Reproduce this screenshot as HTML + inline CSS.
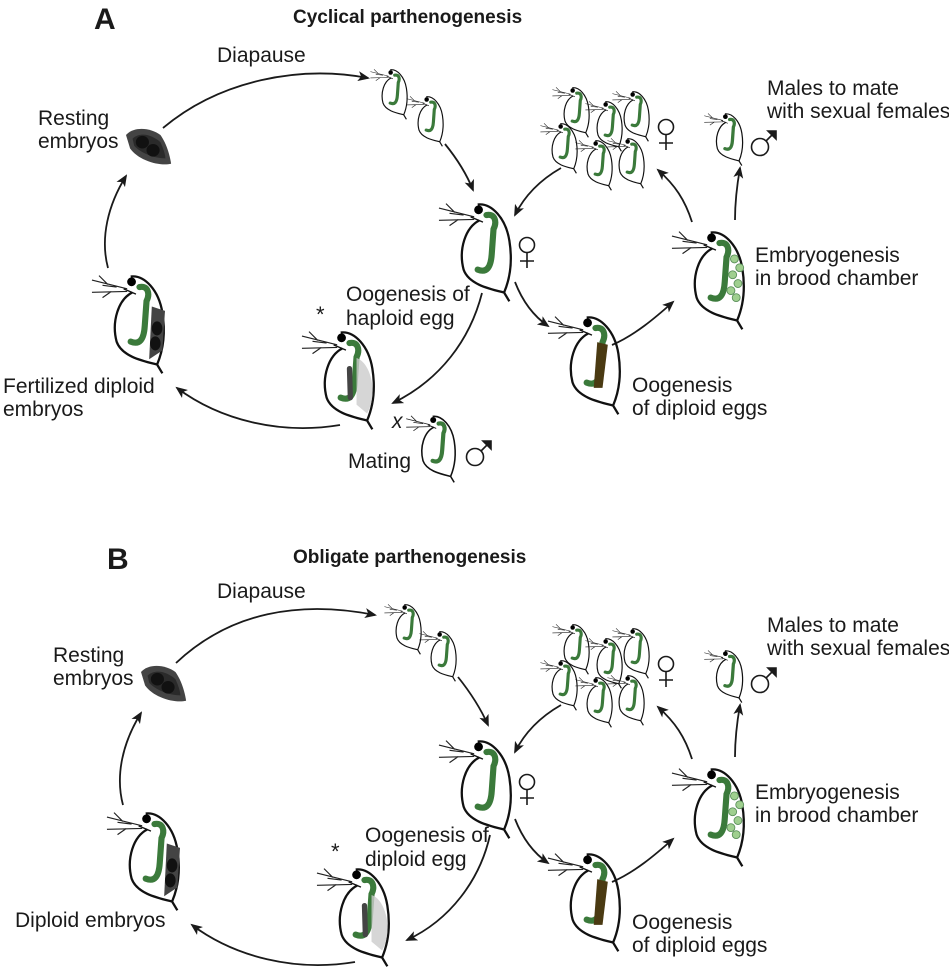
<!DOCTYPE html>
<html><head><meta charset="utf-8"><style>
html,body{margin:0;padding:0;background:#fff}
svg{display:block}
text{font-family:"Liberation Sans",sans-serif;font-size:21px;fill:#1a1a1a}
.t{font-weight:bold;font-size:19px}
.L{font-weight:bold;font-size:30px}
</style></head><body>
<svg width="949" height="976" viewBox="0 0 949 976" xmlns="http://www.w3.org/2000/svg">
<defs>
<marker id="ah" markerWidth="12" markerHeight="10" refX="10" refY="5" orient="auto" markerUnits="userSpaceOnUse">
<path d="M0,0 L12,5 L0,10 L3,5 Z" fill="#1a1a1a"/></marker>
<g id="fem" fill="none" stroke="#1a1a1a" stroke-width="1.6"><circle cx="0" cy="0" r="7.5"/><path d="M0,7.5 V23 M-7,16 H7"/></g>
<g id="mal" fill="none" stroke="#1a1a1a" stroke-width="1.6"><circle cx="0" cy="0" r="8.5"/><path d="M6,-6 L14,-14"/><path d="M8,-16 L16,-16 L16,-8 Z" fill="#1a1a1a"/></g>
<g id="d">
<path d="M32,18 L-8,8 M10,13 L0,3 M32,21 L-8,22 M14,21 L4,28 M20,16 L4,14" stroke="#222" stroke-width="1.3" fill="none"/>
<path d="M36,4 C52,2 68,20 72,45 C76,70 72,90 66,104" stroke="#111" stroke-width="2.6" fill="none"/>
<path d="M38,22 C22,30 14,55 20,78 C26,95 50,100 66,104 L72,114" stroke="#111" stroke-width="2.6" fill="none"/>
<path d="M28,18 L42,24" stroke="#111" stroke-width="1.5"/>
<circle cx="37" cy="10" r="5" fill="#000"/>
<path d="M46,16 C56,14 58,24 54,32 L52,60 C51,76 46,82 36,78" stroke="#3b7a3b" stroke-width="7" fill="none" stroke-linecap="round"/>
</g>
<g id="re"><path d="M0,10 C10,0 30,2 42,10 C50,20 54,35 55,42 C40,45 15,38 5,25 Z" fill="#444"/><path d="M8,14 C18,6 32,10 42,18 C46,26 48,32 48,36 C34,36 18,30 10,22 Z" fill="#2a2a2a"/><ellipse cx="20" cy="18" rx="8" ry="7" fill="#111"/><ellipse cx="33" cy="27" rx="8" ry="7" fill="#111"/></g>
<g id="R">
<g fill="none" stroke="#1a1a1a" stroke-width="1.8">
<path d="M561,168 C540,180 525,195 515,215" marker-end="url(#ah)"/>
<path d="M515,282 C522,300 532,315 548,326" marker-end="url(#ah)"/>
<path d="M612,345 C635,335 655,318 673,302" marker-end="url(#ah)"/>
<path d="M692,222 C685,200 675,185 658,170" marker-end="url(#ah)"/>
<path d="M735,220 C735,200 737,185 740,168" marker-end="url(#ah)"/>
</g>
<g transform="translate(446,201) scale(0.88)"><use href="#d"/></g>
<g transform="translate(679,229) scale(0.88)"><use href="#d"/>
<g fill="#9fcf8f" stroke="#5a8f5a"><circle cx="63" cy="34" r="4.5"/><circle cx="69" cy="44" r="4.5"/><circle cx="61" cy="52" r="4.5"/><circle cx="67" cy="62" r="4.5"/><circle cx="59" cy="70" r="4.5"/><circle cx="65" cy="78" r="4.5"/></g></g>
<g transform="translate(555,314) scale(0.88)"><use href="#d"/>
<path d="M48,32 L60,35 L54,84 L44,84 Z" fill="#4a3a12"/></g>
<use href="#d" transform="translate(556,86) scale(0.45)"/>
<use href="#d" transform="translate(589,100) scale(0.45)"/>
<use href="#d" transform="translate(616,90) scale(0.45)"/>
<use href="#d" transform="translate(544,122) scale(0.45)"/>
<use href="#d" transform="translate(579,139) scale(0.45)"/>
<use href="#d" transform="translate(611,137) scale(0.45)"/>
<use href="#d" transform="translate(708,112) scale(0.47)"/>
<use href="#fem" x="666" y="127"/>
<use href="#fem" x="527" y="245"/>
<text x="767" y="95">Males to mate</text><text x="767" y="118">with sexual females</text>
<use href="#mal" x="760" y="147"/>
<text x="755" y="262">Embryogenesis</text><text x="755" y="285">in brood chamber</text>
<text x="632" y="392">Oogenesis</text><text x="632" y="415">of diploid eggs</text>
</g>
<g id="Lf">
<g fill="none" stroke="#1a1a1a" stroke-width="1.8">
<path d="M108,268 C100,238 108,205 126,176" marker-end="url(#ah)"/>
<path d="M340,425 C280,435 220,420 177,388" marker-end="url(#ah)"/>
</g>
<use href="#re" transform="translate(126,126) scale(0.82,0.9)"/>
<g transform="translate(99,273) scale(0.88)"><use href="#d"/>
<path d="M60,38 L75,43 L72,88 L57,98 Z" fill="#444"/><ellipse cx="66" cy="63" rx="6" ry="8" fill="#111"/><ellipse cx="64" cy="80" rx="6" ry="8" fill="#111"/></g>
<g transform="translate(309,329) scale(0.88)"><use href="#d"/>
<path d="M54,33 C70,38 79,73 66,96 L54,86 Z" fill="#ccc" opacity="0.8"/>
<path d="M46,45 L47,78" stroke="#444" stroke-width="6" stroke-linecap="round"/></g>
<text x="38" y="125">Resting</text><text x="38" y="148">embryos</text>
<text x="316" y="322" style="font-size:22px">*</text>
</g>
</defs>
<text class="L" x="94" y="29">A</text>
<text class="t" x="293" y="23">Cyclical parthenogenesis</text>
<use href="#R"/>
<use href="#Lf"/>
<g fill="none" stroke="#1a1a1a" stroke-width="1.8">
<path d="M163,128 C220,80 300,65 368,78" marker-end="url(#ah)"/>
<path d="M445,144 C458,160 467,175 473,190" marker-end="url(#ah)"/>
<path d="M482,293 C470,340 440,380 393,403" marker-end="url(#ah)"/>
</g>
<use href="#d" transform="translate(374,68) scale(0.45)"/>
<use href="#d" transform="translate(410,95) scale(0.45)"/>
<text x="217" y="62">Diapause</text>
<text x="346" y="301">Oogenesis of</text><text x="346" y="325">haploid egg</text>
<text x="3" y="393">Fertilized diploid</text><text x="3" y="416">embryos</text>
<text x="392" y="428" style="font-style:italic">x</text>
<text x="348" y="468">Mating</text>
<use href="#d" transform="translate(411,414) scale(0.6)"/>
<use href="#mal" x="475" y="457"/>

<text class="L" x="107" y="569">B</text>
<text class="t" x="293" y="563">Obligate parthenogenesis</text>
<g transform="translate(0,537)"><use href="#R"/></g>
<g transform="translate(15,537)"><use href="#Lf"/></g>
<g fill="none" stroke="#1a1a1a" stroke-width="1.8">
<path d="M176,663 C230,612 300,600 375,615" marker-end="url(#ah)"/>
<path d="M458,677 C470,692 480,707 488,725" marker-end="url(#ah)"/>
<path d="M490,835 C480,880 450,920 407,940" marker-end="url(#ah)"/>
</g>
<use href="#d" transform="translate(388,603) scale(0.45)"/>
<use href="#d" transform="translate(423,630) scale(0.45)"/>
<text x="217" y="598">Diapause</text>
<text x="365" y="842">Oogenesis of</text><text x="365" y="866">diploid egg</text>
<text x="15" y="927">Diploid embryos</text>
</svg>
</body></html>
